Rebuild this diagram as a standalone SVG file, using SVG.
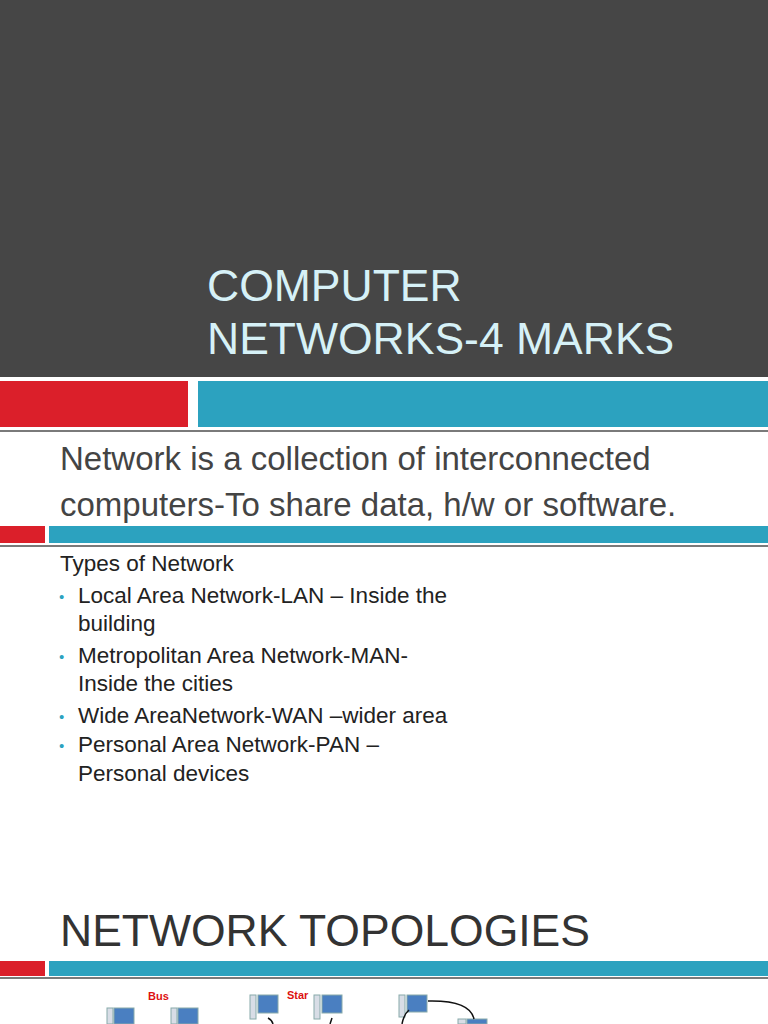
<svg xmlns="http://www.w3.org/2000/svg" width="768" height="1024" viewBox="0 0 768 1024">
<style>
text{font-family:"Liberation Sans",Arial,sans-serif}
.red{fill:#db1f2a}.cy{fill:#2ca2bf}.gl{fill:#7a7a7a}
.b{fill:#222;font-size:22.5px}
.dot{fill:#2ca2bf;font-size:15px}
.pc{fill:#4a7fc1;stroke:#8aa;stroke-width:1}
.tw{fill:#d8dde6;stroke:#8aa;stroke-width:1}
</style>
<rect width="768" height="1024" fill="#fff"/>
<rect width="768" height="377" fill="#464646"/>
<text x="207" y="301" font-size="44.5" fill="#d6f1f7">COMPUTER</text>
<text x="207" y="354" font-size="44.5" fill="#d6f1f7">NETWORKS-4 MARKS</text>
<rect class="red" x="0" y="381" width="188" height="46"/>
<rect class="cy" x="198" y="381" width="570" height="46"/>
<rect class="gl" x="0" y="430" width="768" height="2"/>
<text x="60" y="470" font-size="33" fill="#444">Network is a collection of interconnected</text>
<text x="60" y="516" font-size="33" fill="#444">computers-To share data, h/w or software.</text>
<rect class="red" x="0" y="526" width="45" height="17"/>
<rect class="cy" x="49" y="526" width="719" height="17"/>
<rect class="gl" x="0" y="545" width="768" height="2"/>
<text x="60" y="571" class="b">Types of Network</text>
<text x="59" y="602" class="dot">•</text><text x="78" y="603" class="b">Local Area Network-LAN – Inside the</text>
<text x="78" y="631" class="b">building</text>
<text x="59" y="662" class="dot">•</text><text x="78" y="663" class="b">Metropolitan Area Network-MAN-</text>
<text x="78" y="691" class="b">Inside the cities</text>
<text x="59" y="722" class="dot">•</text><text x="78" y="723" class="b">Wide AreaNetwork-WAN –wider area</text>
<text x="59" y="751" class="dot">•</text><text x="78" y="752" class="b">Personal Area Network-PAN –</text>
<text x="78" y="781" class="b">Personal devices</text>
<text x="60" y="946" font-size="44.5" fill="#333">NETWORK TOPOLOGIES</text>
<rect class="red" x="0" y="961" width="45" height="15"/>
<rect class="cy" x="49" y="961" width="719" height="15"/>
<rect class="gl" x="0" y="977" width="768" height="2"/>
<text x="148" y="1000" font-size="11" fill="#d11" font-weight="bold">Bus</text>
<text x="287" y="999" font-size="11" fill="#d11" font-weight="bold">Star</text>
<g id="bus1"><rect class="tw" x="107" y="1008" width="6" height="16"/><rect class="pc" x="114" y="1008" width="20" height="16"/></g>
<g id="bus2"><rect class="tw" x="171" y="1008" width="6" height="16"/><rect class="pc" x="178" y="1008" width="20" height="16"/></g>
<g id="star1"><rect class="tw" x="250" y="995" width="6" height="24"/><rect class="pc" x="258" y="995" width="20" height="18"/></g>
<g id="star2"><rect class="tw" x="314" y="995" width="6" height="24"/><rect class="pc" x="322" y="995" width="20" height="18"/></g>
<g id="ring1"><rect class="tw" x="399" y="995" width="6" height="22"/><rect class="pc" x="407" y="995" width="20" height="17"/></g>
<g id="ring2"><rect class="tw" x="458" y="1019" width="8" height="5"/><rect class="pc" x="467" y="1019" width="20" height="5"/></g>
<g id="connectors" fill="none" stroke="#111" stroke-width="1.5">
<path d="M428 1001 Q470 1000 474 1019"/>
<path d="M402 1024 Q404 1014 409 1010"/>
<path d="M268 1018 Q272 1020 273 1024"/>
<path d="M332 1018 L330 1024"/>
</g>
</svg>
